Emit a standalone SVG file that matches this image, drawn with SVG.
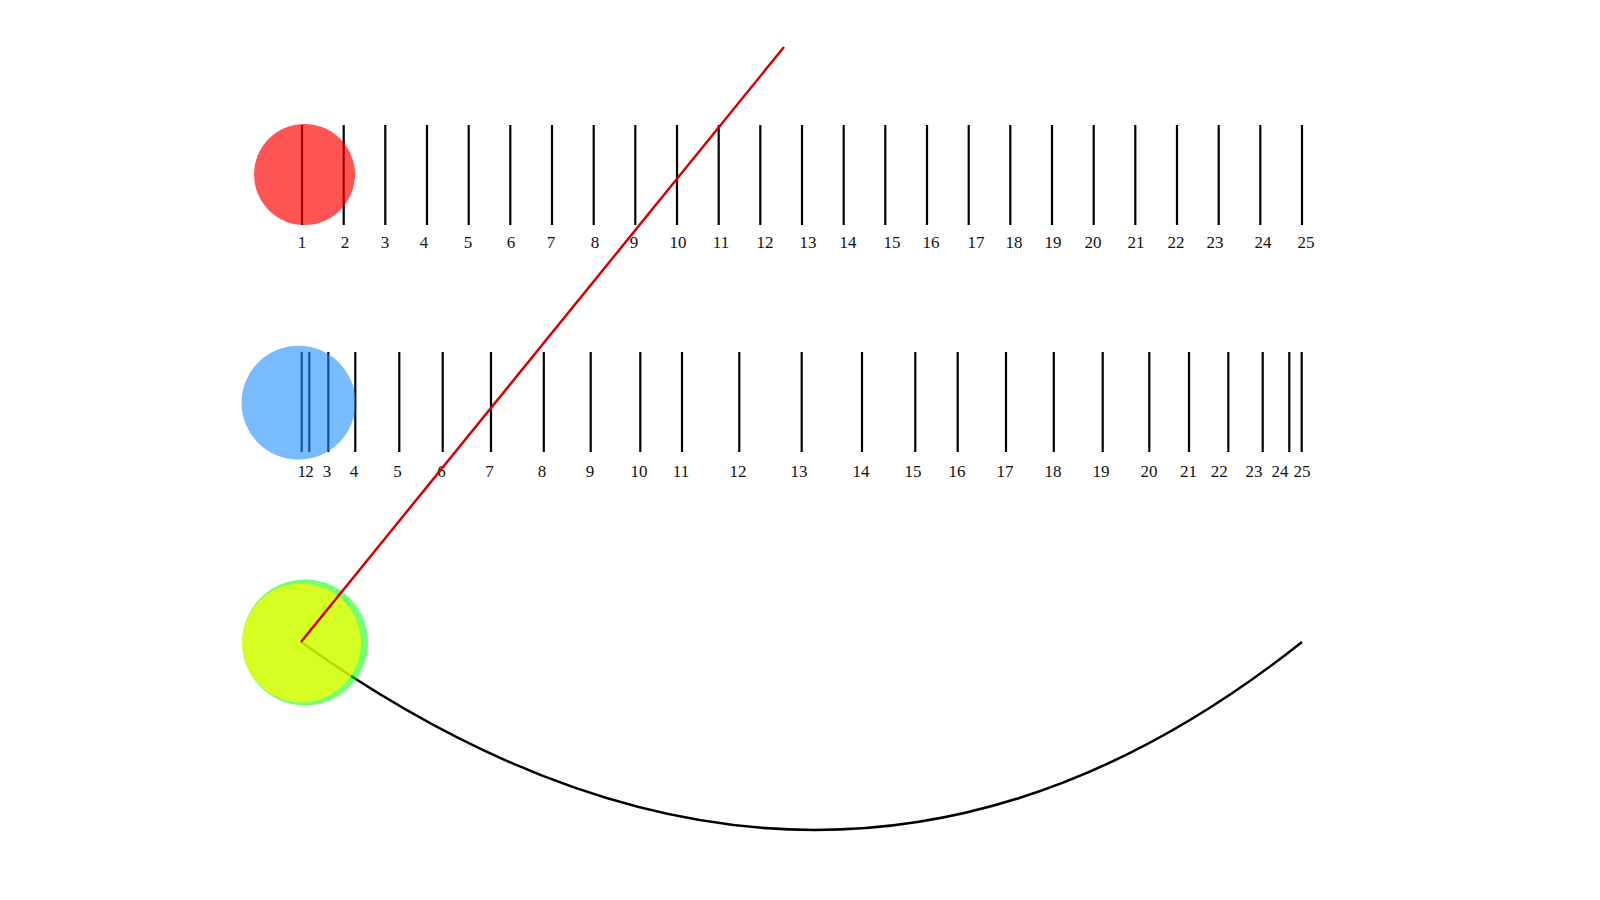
<svg xmlns="http://www.w3.org/2000/svg" width="1600" height="900" viewBox="0 0 1600 900">
<style>
.tick{stroke:#000;stroke-width:2.2}
.lbl{font-family:"Liberation Serif","Times New Roman",serif;font-size:17px;fill:#111;text-anchor:middle}
</style>
<rect width="1600" height="900" fill="#fff"/>
<g id="row-linear">
<g id="ticks-linear">
<line class="tick" x1="302" y1="125" x2="302" y2="225"/>
<line class="tick" x1="343.7" y1="125" x2="343.7" y2="225"/>
<line class="tick" x1="385.3" y1="125" x2="385.3" y2="225"/>
<line class="tick" x1="427" y1="125" x2="427" y2="225"/>
<line class="tick" x1="468.7" y1="125" x2="468.7" y2="225"/>
<line class="tick" x1="510.3" y1="125" x2="510.3" y2="225"/>
<line class="tick" x1="552" y1="125" x2="552" y2="225"/>
<line class="tick" x1="593.7" y1="125" x2="593.7" y2="225"/>
<line class="tick" x1="635.3" y1="125" x2="635.3" y2="225"/>
<line class="tick" x1="677" y1="125" x2="677" y2="225"/>
<line class="tick" x1="718.7" y1="125" x2="718.7" y2="225"/>
<line class="tick" x1="760.3" y1="125" x2="760.3" y2="225"/>
<line class="tick" x1="802" y1="125" x2="802" y2="225"/>
<line class="tick" x1="843.7" y1="125" x2="843.7" y2="225"/>
<line class="tick" x1="885.3" y1="125" x2="885.3" y2="225"/>
<line class="tick" x1="927" y1="125" x2="927" y2="225"/>
<line class="tick" x1="968.7" y1="125" x2="968.7" y2="225"/>
<line class="tick" x1="1010.3" y1="125" x2="1010.3" y2="225"/>
<line class="tick" x1="1052" y1="125" x2="1052" y2="225"/>
<line class="tick" x1="1093.7" y1="125" x2="1093.7" y2="225"/>
<line class="tick" x1="1135.3" y1="125" x2="1135.3" y2="225"/>
<line class="tick" x1="1177" y1="125" x2="1177" y2="225"/>
<line class="tick" x1="1218.7" y1="125" x2="1218.7" y2="225"/>
<line class="tick" x1="1260.3" y1="125" x2="1260.3" y2="225"/>
<line class="tick" x1="1302" y1="125" x2="1302" y2="225"/>
</g>
<g id="labels-linear">
<text class="lbl" x="302" y="248">1</text>
<text class="lbl" x="345" y="248">2</text>
<text class="lbl" x="385" y="248">3</text>
<text class="lbl" x="424" y="248">4</text>
<text class="lbl" x="468" y="248">5</text>
<text class="lbl" x="511" y="248">6</text>
<text class="lbl" x="551" y="248">7</text>
<text class="lbl" x="595" y="248">8</text>
<text class="lbl" x="634" y="248">9</text>
<text class="lbl" x="678" y="248">10</text>
<text class="lbl" x="721" y="248">11</text>
<text class="lbl" x="765" y="248">12</text>
<text class="lbl" x="808" y="248">13</text>
<text class="lbl" x="848" y="248">14</text>
<text class="lbl" x="892" y="248">15</text>
<text class="lbl" x="931" y="248">16</text>
<text class="lbl" x="976" y="248">17</text>
<text class="lbl" x="1014" y="248">18</text>
<text class="lbl" x="1053" y="248">19</text>
<text class="lbl" x="1093" y="248">20</text>
<text class="lbl" x="1136" y="248">21</text>
<text class="lbl" x="1176" y="248">22</text>
<text class="lbl" x="1215" y="248">23</text>
<text class="lbl" x="1263" y="248">24</text>
<text class="lbl" x="1306" y="248">25</text>
</g>
<circle id="red-ball" cx="304.5" cy="174.5" r="50.5" fill="#ff0000" fill-opacity="0.67"/>
</g>
<g id="row-eased">
<g id="ticks-eased">
<line class="tick" x1="301.7" y1="352" x2="301.7" y2="452"/>
<line class="tick" x1="309.3" y1="352" x2="309.3" y2="452"/>
<line class="tick" x1="328.3" y1="352" x2="328.3" y2="452"/>
<line class="tick" x1="355.3" y1="352" x2="355.3" y2="452"/>
<line class="tick" x1="399.3" y1="352" x2="399.3" y2="452"/>
<line class="tick" x1="442.7" y1="352" x2="442.7" y2="452"/>
<line class="tick" x1="491" y1="352" x2="491" y2="452"/>
<line class="tick" x1="543.8" y1="352" x2="543.8" y2="452"/>
<line class="tick" x1="590.7" y1="352" x2="590.7" y2="452"/>
<line class="tick" x1="640.3" y1="352" x2="640.3" y2="452"/>
<line class="tick" x1="682" y1="352" x2="682" y2="452"/>
<line class="tick" x1="739.3" y1="352" x2="739.3" y2="452"/>
<line class="tick" x1="801.7" y1="352" x2="801.7" y2="452"/>
<line class="tick" x1="862" y1="352" x2="862" y2="452"/>
<line class="tick" x1="915.3" y1="352" x2="915.3" y2="452"/>
<line class="tick" x1="957.7" y1="352" x2="957.7" y2="452"/>
<line class="tick" x1="1006" y1="352" x2="1006" y2="452"/>
<line class="tick" x1="1053.8" y1="352" x2="1053.8" y2="452"/>
<line class="tick" x1="1102.7" y1="352" x2="1102.7" y2="452"/>
<line class="tick" x1="1149.3" y1="352" x2="1149.3" y2="452"/>
<line class="tick" x1="1189" y1="352" x2="1189" y2="452"/>
<line class="tick" x1="1228.3" y1="352" x2="1228.3" y2="452"/>
<line class="tick" x1="1262.7" y1="352" x2="1262.7" y2="452"/>
<line class="tick" x1="1289.3" y1="352" x2="1289.3" y2="452"/>
<line class="tick" x1="1301.7" y1="352" x2="1301.7" y2="452"/>
</g>
<g id="labels-eased">
<text class="lbl" x="301.7" y="477">1</text>
<text class="lbl" x="309.5" y="477">2</text>
<text class="lbl" x="327" y="477">3</text>
<text class="lbl" x="354" y="477">4</text>
<text class="lbl" x="397.5" y="477">5</text>
<text class="lbl" x="441.5" y="477">6</text>
<text class="lbl" x="489.5" y="477">7</text>
<text class="lbl" x="542" y="477">8</text>
<text class="lbl" x="590" y="477">9</text>
<text class="lbl" x="639" y="477">10</text>
<text class="lbl" x="681" y="477">11</text>
<text class="lbl" x="738" y="477">12</text>
<text class="lbl" x="799" y="477">13</text>
<text class="lbl" x="861" y="477">14</text>
<text class="lbl" x="913" y="477">15</text>
<text class="lbl" x="957" y="477">16</text>
<text class="lbl" x="1005" y="477">17</text>
<text class="lbl" x="1053" y="477">18</text>
<text class="lbl" x="1101" y="477">19</text>
<text class="lbl" x="1149" y="477">20</text>
<text class="lbl" x="1188.5" y="477">21</text>
<text class="lbl" x="1219.3" y="477">22</text>
<text class="lbl" x="1254" y="477">23</text>
<text class="lbl" x="1280" y="477">24</text>
<text class="lbl" x="1302" y="477">25</text>
</g>
<circle id="blue-ball" cx="298.5" cy="402.7" r="57" fill="#1e90ff" fill-opacity="0.6"/>
</g>
<g id="connectors">
<path id="curve" d="M301,642 Q829,1018 1302,642" fill="none" stroke="#000" stroke-width="2.5"/>
</g>
<g id="green-ball"><circle cx="305" cy="642.5" r="63" fill="#00ff00" fill-opacity="0.55"/></g>
<g id="yellow-ball"><circle cx="301.5" cy="643" r="59.5" fill="#ffff00" fill-opacity="0.7"/></g>
<g id="red-line"><line x1="301" y1="642" x2="784" y2="47" stroke="#d40000" stroke-width="2.5"/></g>
</svg>
